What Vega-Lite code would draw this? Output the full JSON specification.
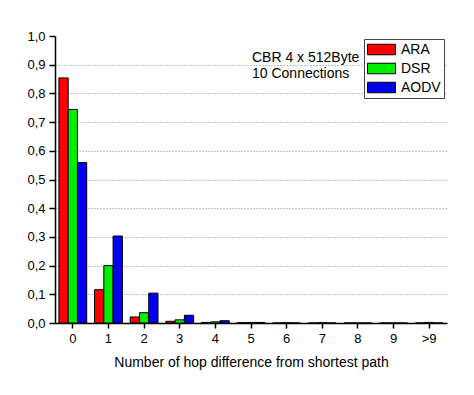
{
  "$schema": "https://vega.github.io/schema/vega-lite/v6.json",
  "autosize": {"type": "none"},
  "width": 392,
  "height": 287,
  "padding": {"left": 55, "top": 36, "right": 27, "bottom": 72},
  "background": "white",
  "config": {
    "font": "Liberation Sans",
    "view": {"stroke": null}
  },
  "data": {
    "values": [
      {"hop": "0", "proto": "ARA", "v": 0.854},
      {"hop": "0", "proto": "DSR", "v": 0.744},
      {"hop": "0", "proto": "AODV", "v": 0.559},
      {"hop": "1", "proto": "ARA", "v": 0.116},
      {"hop": "1", "proto": "DSR", "v": 0.2},
      {"hop": "1", "proto": "AODV", "v": 0.303},
      {"hop": "2", "proto": "ARA", "v": 0.021},
      {"hop": "2", "proto": "DSR", "v": 0.036},
      {"hop": "2", "proto": "AODV", "v": 0.104},
      {"hop": "3", "proto": "ARA", "v": 0.006},
      {"hop": "3", "proto": "DSR", "v": 0.011},
      {"hop": "3", "proto": "AODV", "v": 0.027},
      {"hop": "4", "proto": "ARA", "v": 0.002},
      {"hop": "4", "proto": "DSR", "v": 0.004},
      {"hop": "4", "proto": "AODV", "v": 0.008},
      {"hop": "5", "proto": "ARA", "v": 0.001},
      {"hop": "5", "proto": "DSR", "v": 0.002},
      {"hop": "5", "proto": "AODV", "v": 0.002},
      {"hop": "6", "proto": "ARA", "v": 0.0},
      {"hop": "6", "proto": "DSR", "v": 0.001},
      {"hop": "6", "proto": "AODV", "v": 0.0},
      {"hop": "7", "proto": "ARA", "v": 0.0},
      {"hop": "7", "proto": "DSR", "v": 0.001},
      {"hop": "7", "proto": "AODV", "v": 0.0},
      {"hop": "8", "proto": "ARA", "v": 0.0},
      {"hop": "8", "proto": "DSR", "v": 0.0},
      {"hop": "8", "proto": "AODV", "v": 0.0},
      {"hop": "9", "proto": "ARA", "v": 0.0},
      {"hop": "9", "proto": "DSR", "v": 0.0},
      {"hop": "9", "proto": "AODV", "v": 0.0},
      {"hop": ">9", "proto": "ARA", "v": 0.0},
      {"hop": ">9", "proto": "DSR", "v": 0.002},
      {"hop": ">9", "proto": "AODV", "v": 0.0}
    ]
  },
  "encoding": {
    "y": {
      "field": "v", "type": "quantitative",
      "scale": {"domain": [0, 1], "nice": false},
      "axis": {
        "title": null,
        "values": [0,0.1,0.2,0.3,0.4,0.5,0.6,0.7,0.8,0.9,1.0],
        "tickCount": 30,
        "labelOverlap": false,
        "labelExpr": "replace(format(datum.value, '.1f'), '.', ',')",
        "labelFontSize": 13, "labelColor": "black", "labelPadding": 4,
        "domainColor": "black", "domainWidth": 1.5, "tickColor": "black", "tickSize": 6, "tickWidth": 1.5,
        "grid": true, "gridColor": "#888888", "gridDash": [1, 2],
        "gridOpacity": {"condition": {"test": "datum.value >= 1 || datum.value <= 0", "value": 0}, "value": 1}
      }
    }
  },
  "layer": [
    {
      "mark": {"type": "bar", "stroke": "black", "strokeWidth": 1},
      "encoding": {
        "x": {
          "field": "hop", "type": "nominal",
          "sort": ["0","1","2","3","4","5","6","7","8","9",">9"],
          "scale": {"paddingInner": 0.22, "paddingOuter": 0.11},
          "axis": {
            "title": "Number of hop difference from shortest path",
            "titleFontSize": 14, "titleFontWeight": "normal", "titleColor": "black", "titlePadding": 10,
            "labelAngle": 0, "labelFontSize": 13, "labelColor": "black", "labelPadding": 4,
            "domainColor": "black", "domainWidth": 1.5, "tickColor": "black", "tickSize": 5, "tickWidth": 1.5
          }
        },
        "xOffset": {"field": "proto", "type": "nominal", "sort": ["ARA","DSR","AODV"]},
        "color": {
          "field": "proto", "type": "nominal",
          "sort": ["ARA","DSR","AODV"],
          "scale": {"domain": ["ARA","DSR","AODV"], "range": ["#ff0000", "#00ee00", "#0000ee"]},
          "legend": {
            "title": null, "orient": "top-right", "offset": 3,
            "strokeColor": "#444444", "padding": 3, "fillColor": "white",
            "symbolType": "M-1,-0.75H3V0.75H-1Z", "symbolSize": 196,
            "symbolStrokeColor": "black", "symbolStrokeWidth": 1,
            "labelFontSize": 14, "labelColor": "black", "rowPadding": 4, "labelOffset": 19
          }
        }
      }
    },
    {
      "data": {"values": [
        {"hop": "5", "v": 0.925, "t": "CBR 4 x 512Byte"},
        {"hop": "5", "v": 0.866, "t": "10 Connections"}
      ]},
      "mark": {"type": "text", "align": "left", "baseline": "middle", "fontSize": 14, "dx": 1, "color": "black"},
      "encoding": {
        "x": {"field": "hop", "type": "nominal", "sort": ["0","1","2","3","4","5","6","7","8","9",">9"]},
        "text": {"field": "t"}
      }
    }
  ]
}
